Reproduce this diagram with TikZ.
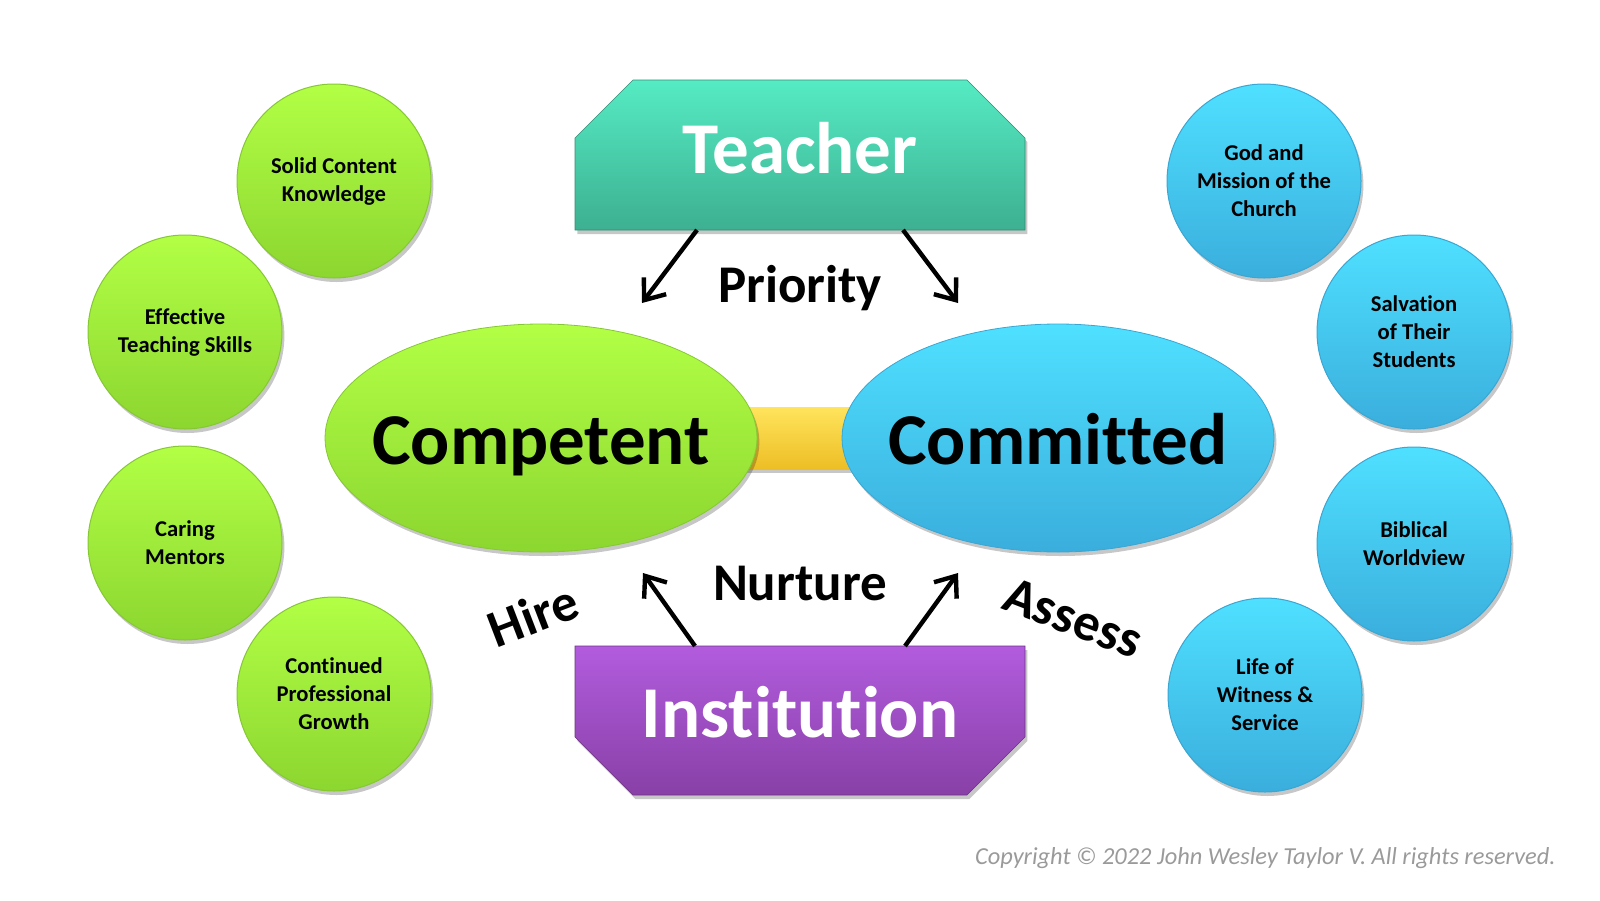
\documentclass[tikz,border=0pt]{standalone}
\usepackage{fontspec}
\setmainfont[Ligatures=NoCommon]{Carlito}
\usetikzlibrary{arrows.meta,shadows,shapes.geometric}
\definecolor{gTop}{HTML}{B2FF45}
\definecolor{gBot}{HTML}{8CD630}
\definecolor{gEdge}{HTML}{86C834}
\definecolor{bTop}{HTML}{4FE0FF}
\definecolor{bBot}{HTML}{3AAEDD}
\definecolor{bEdge}{HTML}{3AA6D2}
\definecolor{tTop}{HTML}{55EBC3}
\definecolor{tBot}{HTML}{3DB091}
\definecolor{pTop}{HTML}{B25CDE}
\definecolor{pBot}{HTML}{8840A6}
\definecolor{yTop}{HTML}{FFE45C}
\definecolor{yBot}{HTML}{EDBE25}
\definecolor{copy}{HTML}{9A9A9A}
\begin{document}
\begin{tikzpicture}[x=0.5pt,y=-0.5pt,
  shad/.style={drop shadow={shadow xshift=1.2pt,shadow yshift=-2pt,opacity=0.22,fill=black}},
  gball/.style={circle,minimum size=97pt,inner sep=0pt,top color=gTop,bottom color=gBot,draw=gEdge,line width=0.5pt,shad,align=center,font=\bfseries\fontsize{11.3}{14}\selectfont},
  bball/.style={circle,minimum size=97pt,inner sep=0pt,top color=bTop,bottom color=bBot,draw=bEdge,line width=0.5pt,shad,align=center,font=\bfseries\fontsize{11.3}{14}\selectfont},
  bigoval/.style={ellipse,minimum width=216pt,minimum height=114pt,inner sep=0pt,shad},
  ovaltext/.style={font=\bfseries\fontsize{36.5}{40}\selectfont,inner sep=0pt,anchor=base},
  lbl/.style={font=\bfseries\fontsize{26.5}{30}\selectfont,inner sep=0pt},
  hdr/.style={font=\bfseries\fontsize{36.5}{40}\selectfont,text=white,inner sep=0pt,anchor=base},
  arr/.style={line width=2.2pt,-{Straight Barb[length=9pt,width=14pt,line width=2.2pt]}}
]
\useasboundingbox (0,0) rectangle (1600,900);

% top and bottom shapes
\shade[top color=tTop,bottom color=tBot,draw=tBot!80!black,line width=0.3pt,shad]
  (575,230)--(575,138)--(633,80)--(967,80)--(1025,138)--(1025,230)--cycle;
\node[hdr] (teacher) at (800,173) {Teacher};

\shade[top color=pTop,bottom color=pBot,draw=pBot!80!black,line width=0.3pt,shad]
  (575,646)--(1025,646)--(1025,737)--(967,795)--(633,795)--(575,737)--cycle;
\node[hdr] (institution) at (800,737) {Institution};

% yellow link
\shade[top color=yTop,bottom color=yBot,shad] (740,407) rectangle (870,469);

% ovals
\node[bigoval,top color=gTop,bottom color=gBot,draw=gEdge] (competent) at (541,438) {};
\node[bigoval,top color=bTop,bottom color=bBot,draw=bEdge] (committed) at (1058,438) {};
\node[ovaltext] (competentT) at ([yshift=-13pt]competent.center) {Competent};
\node[ovaltext] (committedT) at ([yshift=-13pt]committed.center) {Committed};

% arrows
\coordinate (tl) at (697,230);
\coordinate (tr) at (903,230);
\coordinate (cl) at (642,303);
\coordinate (cr) at (958,303);
\coordinate (il) at (695,646);
\coordinate (ir) at (905,646);
\coordinate (nl) at (643,573);
\coordinate (nr) at (958,573);
\draw[arr] (tl) -- (cl);
\draw[arr] (tr) -- (cr);
\draw[arr] (il) -- (nl);
\draw[arr] (ir) -- (nr);

\node[lbl,anchor=base] (priority) at (800,302) {Priority};
\node[lbl,anchor=base] (nurture) at (800,600) {Nurture};
\node[lbl,rotate=21] (hire) at (533,615) {Hire};
\node[lbl,rotate=-21] (assess) at (1073,618) {Assess};

% left balls
\node[gball] (g1) at (334,181) {Solid Content\\Knowledge};
\node[gball] (g2) at (185,332) {Effective\\Teaching Skills};
\node[gball] (g3) at (185,543) {Caring\\Mentors};
\node[gball] (g4) at (334,694) {Continued\\Professional\\Growth};

% right balls
\node[bball] (b1) at (1264,181) {God and\\Mission of the\\Church};
\node[bball] (b2) at (1414,332) {Salvation\\of Their\\Students};
\node[bball] (b3) at (1414,544) {Biblical\\Worldview};
\node[bball] (b4) at (1265,695) {Life of\\Witness \&\\Service};

\node[anchor=base east,inner sep=0pt,text=copy,font=\itshape\fontsize{12.2}{14}\selectfont] (copyright) at (1556,864) {Copyright © 2022 John Wesley Taylor V. All rights reserved.};
\end{tikzpicture}
\end{document}
